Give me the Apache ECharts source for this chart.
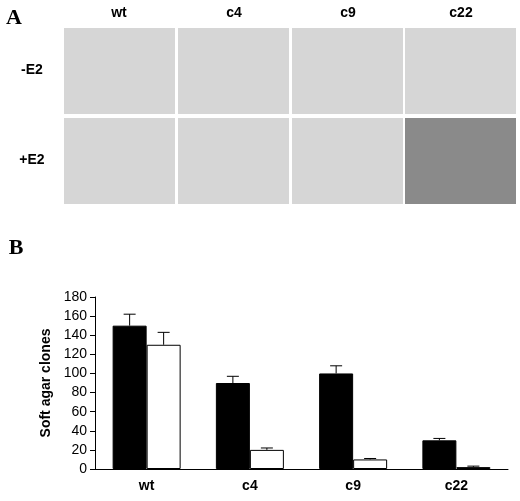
<!DOCTYPE html>
<html><head><meta charset="utf-8">
<script src="https://cdn.jsdelivr.net/npm/echarts@6/dist/echarts.min.js"></script>
<style>html,body{margin:0;padding:0;background:#fff}#c{width:520px;height:501px}</style>
</head><body><div id="c"></div>
<script>
var categories = ['wt', 'c4', 'c9', 'c22'];
var minusE2 = [150, 90, 100, 30];
var minusE2Err = [12, 7, 8, 2];
var plusE2 = [130, 20, 10, 2];
var plusE2Err = [13, 2, 1, 1];
var yTicks = [0, 20, 40, 60, 80, 100, 120, 140, 160, 180];

var chart = echarts.init(document.getElementById('c'));
var BW = 34;

function errSeries(vals, errs, shift) {
  return {
    type: 'custom', z: 1,
    data: vals.map(function (v, i) { return [i, v, v + errs[i]]; }),
    renderItem: function (params, api) {
      var p0 = api.coord([api.value(0), api.value(1)]);
      var p1 = api.coord([api.value(0), api.value(2)]);
      var x = p0[0] + shift;
      return { type: 'group', children: [
        { type: 'line', shape: { x1: x, y1: p0[1], x2: x, y2: p1[1] }, style: { stroke: '#000', lineWidth: 1 } },
        { type: 'line', shape: { x1: x - 6, y1: p1[1], x2: x + 6, y2: p1[1] }, style: { stroke: '#000', lineWidth: 1 } }
      ] };
    }
  };
}

var panels = [];
var xs = [64, 178, 292, 405], ys = [28, 118];
ys.forEach(function (y, r) {
  xs.forEach(function (x, c) {
    var dark = (r === 1 && c === 3);
    panels.push({ type: 'rect', shape: { x: x, y: y, width: 111, height: 86 },
      style: { fill: dark ? '#8a8a8a' : '#d6d6d6' } });
  });
});

var txt = function (x, y, t, size, fam) {
  return { type: 'text', x: x, y: y, style: { text: t, fontSize: size, fontWeight: 'bold',
    fontFamily: fam || 'Liberation Sans', fill: '#000', textAlign: 'center', textVerticalAlign: 'middle' } };
};

chart.setOption({
  animation: false,
  grid: { left: 95, right: 12, top: 297, bottom: 32 },
  xAxis: {
    type: 'category', data: categories,
    axisLine: { lineStyle: { color: '#000' } }, axisTick: { show: false },
    axisLabel: { color: '#000', fontWeight: 'bold', fontSize: 14, fontFamily: 'Liberation Sans', margin: 10 }
  },
  yAxis: {
    type: 'value', min: yTicks[0], max: yTicks[yTicks.length - 1], interval: 20,
    name: 'Soft agar clones', nameLocation: 'middle', nameGap: 42,
    nameTextStyle: { color: '#000', fontWeight: 'bold', fontSize: 14, fontFamily: 'Liberation Sans' },
    axisLine: { show: true, lineStyle: { color: '#000' } }, axisTick: { show: true, lineStyle: { color: '#000' } },
    splitLine: { show: false },
    axisLabel: { color: '#000', fontSize: 14, fontFamily: 'Liberation Sans' }
  },
  series: [
    { type: 'bar', data: minusE2, barWidth: BW, barGap: '0%', z: 2,
      itemStyle: { color: '#000', borderColor: '#000', borderWidth: 1 } },
    { type: 'bar', data: plusE2, barWidth: BW, z: 2,
      itemStyle: { color: '#fff', borderColor: '#000', borderWidth: 1 } },
    errSeries(minusE2, minusE2Err, -BW / 2),
    errSeries(plusE2, plusE2Err, BW / 2)
  ],
  graphic: panels.concat([
    txt(14, 18, 'A', 22, 'Liberation Serif'),
    txt(16, 248, 'B', 22, 'Liberation Serif'),
    txt(119, 13, 'wt', 14), txt(234, 13, 'c4', 14), txt(348, 13, 'c9', 14), txt(461, 13, 'c22', 14),
    txt(32, 70, '-E2', 14), txt(32, 160, '+E2', 14)
  ])
});
</script></body></html>
